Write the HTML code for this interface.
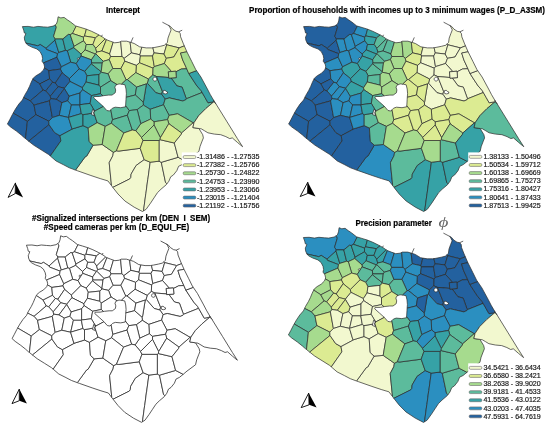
<!DOCTYPE html>
<html><head><meta charset="utf-8"><style>
html,body{margin:0;padding:0;background:#fff;}
svg{display:block;}
.tt{font-family:"Liberation Sans",Arial,sans-serif;font-weight:bold;font-size:8.9px;fill:#000;stroke:#000;stroke-width:0.2px;}
.lg{font-family:"Liberation Sans",Arial,sans-serif;font-size:6.7px;fill:#1a1a1a;stroke:#1a1a1a;stroke-width:0.18px;}
.phi{font-family:"Liberation Serif",serif;font-style:italic;font-size:14.7px;fill:#666;}
</style></head><body>
<svg width="550" height="428" viewBox="0 0 550 428">
<rect width="550" height="428" fill="#fff"/>
<g transform="translate(0,0)" stroke="#2a2a2a" stroke-width="0.7" stroke-linejoin="round">
<path d="M85.1,156.9 75.5,170.1 77.8,170.9 90.9,175.5 100.2,178.6 107.9,180.9 111.5,185.6 109.2,162.7 112.8,155.8 113.4,152.3 102.2,144.5 93.1,145.2 86.7,156.1Z" fill="#F2F8CF"/>
<path d="M140.2,148.3 118.8,151.1 116.4,150.8 113.4,152.3 112.8,155.8 109.2,162.7 111.5,185.6 112.6,187.1 112.8,187.4 129.8,178.9 130.8,177.5 131.1,174.1 136.1,165.5 144.2,159.7Z" fill="#F2F8CF"/>
<path d="M130.8,177.5 129.8,178.9 112.8,187.4 118,194 124.9,201 134.2,207.2 142.5,211.5 143.5,210.9 145.8,193.8 145.9,193.7 147.7,179.9 147.8,179.8 150.2,162.2 144.2,159.7 136.1,165.5 131.1,174.1Z" fill="#F2F8CF"/>
<path d="M147.8,179.8 147.7,179.9 145.9,193.7 145.8,193.8 143.5,210.9 146.1,209.3 150.5,203.2 154,197.9 157.5,192.6 161.1,189.1 166.3,184.7 166.9,183.8 165.5,182.3 161.3,162.3 159,161.2 150.2,162.2Z" fill="#F2F8CF"/>
<path d="M37.8,45.8 40.2,44.5 46,48.3 55,40.1 55.3,39 53.6,36.3 56.3,27.3 55.8,25.8 55,25 53.2,26.1 47.7,27.2 43.4,26.9 37.9,26.4 33.5,27.2 28.1,26.4 22.4,26.6 23.7,30.2 24.3,32.9 25.9,33.4 24.8,36.2 24.3,37 24.6,40 25.9,43.1Z" fill="#36A2A6"/>
<path d="M46.5,49.5 57.5,53.7 58.8,52.5 55,40.1 46,48.3Z" fill="#2B8FC0"/>
<path d="M57,57.2 57.5,53.7 46.5,49.5 46,48.3 40.2,44.5 37.8,45.8 25.9,43.1 25.9,43.2 27.9,45.1 31.7,47.1 36.9,49 40.1,51.6 42,55.4 42.6,58.6 42,61.2 43.3,63Z" fill="#2B8FC0"/>
<path d="M56.3,27.3 53.6,36.3 55.3,39 62.8,39 68.5,34.4 70.2,34.6 72.5,33.5 76.2,26.1 75.5,25.9 70.6,22 67.3,19.8 64.1,17.4 60.8,17.9 58.1,16.8 57.5,20.9 56.4,24 55,25 55.8,25.8Z" fill="#A6DB8E"/>
<path d="M55,40.1 58.8,52.5 65.6,50.4 62.8,39 55.3,39Z" fill="#36A2A6"/>
<path d="M62.8,39 65.6,50.4 67.3,50.8 73.7,47.7 74.1,46.3 70.2,34.6 68.5,34.4Z" fill="#36A2A6"/>
<path d="M48.9,70.7 60.4,69.1 61.4,66.8 57,57.2 43.3,63 43.9,63.8 44.6,67 44.3,68Z" fill="#23619F"/>
<path d="M83.5,37.2 84.5,36 86.4,29.2 80.9,27.5 76.2,26.1 72.5,33.5Z" fill="#DCEB92"/>
<path d="M84.5,36 95.4,37.8 99,35 97.3,34.1 91.8,31.4 86.4,29.2 86.4,29.2Z" fill="#DCEB92"/>
<path d="M74.1,46.3 83.5,40.9 83.5,37.2 72.5,33.5 70.2,34.6Z" fill="#A6DB8E"/>
<path d="M83.5,40.9 86.3,44.5 92.9,44.5 95.4,37.8 84.5,36 83.5,37.2Z" fill="#DCEB92"/>
<path d="M92.9,44.5 95.7,48.3 105.1,38.9 102.2,36.8 99,35 95.4,37.8Z" fill="#DCEB92"/>
<path d="M74.1,46.3 73.7,47.7 81,54 85.1,49.9 86.3,44.5 83.5,40.9Z" fill="#A6DB8E"/>
<path d="M95.4,54.1 95.8,53.8 96.7,52.1 95.7,48.3 92.9,44.5 86.3,44.5 85.1,49.9Z" fill="#A6DB8E"/>
<path d="M81,54 81.1,56 91.4,59.8 95.4,54.1 85.1,49.9Z" fill="#A6DB8E"/>
<path d="M70.7,62.2 76.2,63.6 78.9,59.5 78.8,59.6 78.5,59.7 78.3,59.7 78.1,59.7 77.8,59.6 77.7,59.4 77.5,59.2 77.4,59 77.4,58.8 77.4,58.6 77.5,58.3 77.7,58.2 77.8,58 78.1,57.9 78.3,57.9 78.5,57.9 78.8,58 78.9,58.2 79.1,58.3 79.2,58.6 79.2,58.8 79.2,59 81.1,56 81,54 73.7,47.7 67.3,50.8Z" fill="#36A2A6"/>
<path d="M96.7,52.1 101.9,51 106.4,39.7 106,39.5 105.1,38.9 95.7,48.3Z" fill="#DCEB92"/>
<path d="M101.9,51 109.7,53.9 113.2,42.2 110.3,41.2 106.4,39.7Z" fill="#DCEB92"/>
<path d="M95.8,53.8 103.3,61.3 109.2,59.6 110.7,56.5 109.7,53.9 101.9,51 96.7,52.1Z" fill="#DCEB92"/>
<path d="M110.7,56.5 122,56.5 120.7,41.5 119.1,42.3 114.7,42.8 113.2,42.2 109.7,53.9Z" fill="#F2F8CF"/>
<path d="M122,56.5 124.1,58.4 131.4,52.9 130.1,42.2 126.7,41.2 121.3,41.2 120.7,41.5Z" fill="#F2F8CF"/>
<path d="M109.2,59.6 112.8,68.5 120.9,68.5 124.8,61.2 124.1,58.4 122,56.5 110.7,56.5Z" fill="#DCEB92"/>
<path d="M91.6,63 102.3,63 103.3,61.3 95.8,53.8 95.4,54.1 91.4,59.8Z" fill="#5CBB9C"/>
<path d="M79.1,68.9 84.7,71.4 91.4,63.8 91.6,63 91.4,59.8 81.1,56 79.2,59 79.2,59 79.1,59.2 78.9,59.4 78.9,59.5 76.2,63.6Z" fill="#2B8FC0"/>
<path d="M131.4,52.9 139.9,54.8 141.8,47.2 139.6,46.8 134.2,43.5 130.9,42.4 130.1,42.2Z" fill="#F2F8CF"/>
<path d="M124.8,61.2 136.3,65.4 139.5,62.8 140.4,56 139.9,54.8 131.4,52.9 124.1,58.4Z" fill="#F2F8CF"/>
<path d="M139.9,54.8 140.4,56 152.5,56 154.1,52.9 152.9,47.7 151.6,47.9 146.2,47.9 141.8,47.2Z" fill="#F2F8CF"/>
<path d="M153.1,68.2 154.3,66.6 152.5,56 140.4,56 139.5,62.8Z" fill="#DCEB92"/>
<path d="M135.8,72.6 148.4,79 152.8,74.9 153.1,68.2 139.5,62.8 136.3,65.4Z" fill="#DCEB92"/>
<path d="M120.9,68.5 126,79.7 127.3,79.6 135.8,72.6 136.3,65.4 124.8,61.2Z" fill="#DCEB92"/>
<path d="M166,43.8 164.7,45.2 160.3,46.3 154.9,47.4 152.9,47.7 154.1,52.9 164,54 166.7,44.8Z" fill="#F2F8CF"/>
<path d="M154.3,66.6 164.4,63.5 166.3,58.3 164,54 154.1,52.9 152.5,56Z" fill="#DCEB92"/>
<path d="M166.7,44.8 179.2,47.9 184.3,45.9 183.1,43.1 180.6,36.8 180.2,33.5 178.7,31.8 176,31.3 172.7,29.1 170.6,26.6 168.7,25.4 169.8,27.2 171.1,29.9 169.6,33.7 168,38.1 167.4,42.4 166,43.8Z" fill="#F2F8CF"/>
<path d="M166.3,58.3 173.8,57 179.2,47.9 166.7,44.8 164,54Z" fill="#DCEB92"/>
<path d="M179.2,47.9 173.8,57 166.3,58.3 164.4,63.5 171.5,71.5 175.8,71.2 175.9,71.8 181.3,69 186.7,68.7 185.5,66 182.7,60 180.5,53 186.9,51.8 184.3,45.9Z" fill="#DCEB92"/>
<path d="M153.1,68.2 152.8,74.9 156.5,76.5 168.7,77.5 168.3,71.8 171.5,71.5 164.4,63.5 154.3,66.6Z" fill="#A6DB8E"/>
<path d="M181.3,69 175.9,71.8 176.3,77.6 171.1,78 176.9,85.9 182.1,87.1 186.3,98.8 202.1,92.5 201,90.5 197,86 193,80 188.8,73.5 186.7,68.7Z" fill="#5CBB9C"/>
<path d="M147.3,83.2 155.8,92.7 161.7,94.3 162.4,91.3 156.5,76.5 152.8,74.9 148.4,79ZM155.6,80.9 155.3,81 154.9,81 154.5,81 154.2,80.9 153.8,80.7 153.6,80.4 153.3,80.2 153.1,79.8 153,79.5 153,79.1 153,78.7 153.1,78.4 153.3,78 153.6,77.8 153.8,77.5 154.2,77.3 154.5,77.2 154.9,77.2 155.3,77.2 155.6,77.3 156,77.5 156.2,77.8 156.5,78 156.7,78.4 156.8,78.7 156.8,79.1 156.8,79.5 156.7,79.8 156.5,80.2 156.2,80.4 156,80.7Z" fill="#5CBB9C"/>
<path d="M161.7,94.3 165.1,99.1 169.4,97.9 182.8,101 185.7,99.8 186.3,98.8 182.1,87.1 176.9,85.9 171.1,78 168.8,78.2 168.7,77.5 156.5,76.5 162.4,91.3ZM167.4,93.4 165.5,93.9 163.6,93.6 163,92.2 163.3,90.6 165,90.3 166.2,91.4 167.6,92Z" fill="#36A2A6"/>
<path d="M143.5,101.5 143.1,102 143.4,105.1 150.1,109.3 163.5,104.8 165.1,99.1 161.7,94.3 155.8,92.7 147.3,83.2 146.4,83.9Z" fill="#36A2A6"/>
<path d="M127.3,79.6 136.6,87.1 146.4,83.9 147.3,83.2 148.4,79 135.8,72.6Z" fill="#A6DB8E"/>
<path d="M135.3,95 136.6,87.1 127.3,79.6 126,79.7 121.3,84.1 122,84.2 125,84.8 126,89 126.4,93.7 126.1,97.3Z" fill="#5CBB9C"/>
<path d="M135.3,95 143.1,102 143.5,101.5 146.4,83.9 136.6,87.1Z" fill="#5CBB9C"/>
<path d="M129.3,110.6 137.2,109.6 143.4,105.1 143.1,102 135.3,95 126.1,97.3 126,99.3 125.6,105.8Z" fill="#5CBB9C"/>
<path d="M185.7,99.8 182.8,101 169.4,97.9 165.1,99.1 163.5,104.8 169.1,115.4 177.7,113.8 193.2,122.8 194.1,122.6 198.7,115.7 205.7,108.7 213.9,101.7 208,102.8 205,97.5 202.1,92.5 186.3,98.8ZM213.9,101.7 216.2,104.3 213.4,99.9Z" fill="#5CBB9C"/>
<path d="M150.7,119.1 154,121.8 167.6,119.6 169.1,115.4 163.5,104.8 150.1,109.3Z" fill="#5CBB9C"/>
<path d="M137.2,109.6 140.7,123.7 150.7,119.1 150.1,109.3 143.4,105.1Z" fill="#5CBB9C"/>
<path d="M167.6,119.6 168.8,123.7 181.6,133 193.2,122.8 177.7,113.8 169.1,115.4Z" fill="#A6DB8E"/>
<path d="M160.4,137.7 168.8,123.7 167.6,119.6 154,121.8 154,125Z" fill="#A6DB8E"/>
<path d="M135.8,130.7 141.5,137.5 154,125 154,121.8 150.7,119.1 140.7,123.7Z" fill="#A6DB8E"/>
<path d="M57,57.2 61.4,66.8 70.7,62.2 67.3,50.8 65.6,50.4 58.8,52.5 57.5,53.7Z" fill="#2B8FC0"/>
<path d="M60.4,69.1 62.2,72.8 69.3,78.7 79.1,68.9 76.2,63.6 70.7,62.2 61.4,66.8Z" fill="#2B8FC0"/>
<path d="M84.7,71.4 86.9,75.8 99,74.5 101.4,72.3 101.2,71.7 91.4,63.8Z" fill="#36A2A6"/>
<path d="M101.2,71.7 102.3,63 91.6,63 91.4,63.8Z" fill="#5CBB9C"/>
<path d="M102.3,63 101.2,71.7 101.4,72.3 108.1,73.8 112.8,68.5 109.2,59.6 103.3,61.3Z" fill="#A6DB8E"/>
<path d="M108.1,73.8 110.7,80.7 117,84.6 119,83.9 121.3,84.1 126,79.7 120.9,68.5 112.8,68.5Z" fill="#A6DB8E"/>
<path d="M69.8,81.4 82.4,87.7 86.1,82 86.9,75.8 84.7,71.4 79.1,68.9 69.3,78.7Z" fill="#2B8FC0"/>
<path d="M99,85.2 99,74.5 86.9,75.8 86.1,82Z" fill="#36A2A6"/>
<path d="M99,74.5 99,85.2 100.5,87.1 110.7,80.7 108.1,73.8 101.4,72.3Z" fill="#5CBB9C"/>
<path d="M64.3,88.2 64.4,88.6 69,96.3 80,93 82.6,89.7 82.4,87.7 69.8,81.4Z" fill="#2B8FC0"/>
<path d="M82.6,89.7 91.5,95.6 100.5,93.7 100.5,87.1 99,85.2 86.1,82 82.4,87.7Z" fill="#36A2A6"/>
<path d="M100.5,93.7 102.9,95.8 104,95.6 108.7,95.1 112,95.1 115.2,92.8 115.7,90 114.8,87.1 116.2,84.8 117,84.6 110.7,80.7 100.5,87.1Z" fill="#5CBB9C"/>
<path d="M67.6,100.8 71.4,105 79.8,105 80,104.7 80,93 69,96.3Z" fill="#2B8FC0"/>
<path d="M80,93 80,104.7 90.1,103.4 91.5,95.6 82.6,89.7Z" fill="#2B8FC0"/>
<path d="M94.7,111.1 103.3,106.5 103.1,106.3 98.4,102.1 93.7,97.9 94.2,96.5 99.3,96.5 102.9,95.8 100.5,93.7 91.5,95.6 90.1,103.4Z" fill="#36A2A6"/>
<path d="M39.8,83.9 49.6,78.9 48.9,70.7 44.3,68 43.5,70 40.2,73.3 36.1,75.7 33.2,78.2 32.7,79.2Z" fill="#23619F"/>
<path d="M49.6,78.9 52.5,82.2 55.3,83 62.2,72.8 60.4,69.1 48.9,70.7Z" fill="#23619F"/>
<path d="M30.3,100.9 43.1,90 39.8,83.9 32.7,79.2 31.2,82.3 29.5,86.4 27.5,90.5 24.6,95.4 23.6,97.5Z" fill="#23619F"/>
<path d="M50.3,96.2 58.2,86.7 55.3,83 52.5,82.2 45.6,90.9Z" fill="#23619F"/>
<path d="M58.2,86.7 64.3,88.2 69.8,81.4 69.3,78.7 62.2,72.8 55.3,83Z" fill="#23619F"/>
<path d="M45.6,90.9 52.5,82.2 49.6,78.9 39.8,83.9 43.1,90Z" fill="#23619F"/>
<path d="M30.3,100.9 34,105.1 49.4,100.9 50.9,98.6 50.3,96.2 45.6,90.9 43.1,90Z" fill="#23619F"/>
<path d="M50.9,98.6 56.3,99.4 64.4,88.6 64.3,88.2 58.2,86.7 50.3,96.2Z" fill="#23619F"/>
<path d="M56.3,99.4 61.9,102.7 67.6,100.8 69,96.3 64.4,88.6Z" fill="#23619F"/>
<path d="M27.4,121.4 35.9,114.7 34,105.1 30.3,100.9 23.6,97.5 22.4,100 18.8,104.1 15.5,109 13.2,113.1Z" fill="#23619F"/>
<path d="M49.4,100.9 34,105.1 35.9,114.7 48.8,121.2 52.4,117.6Z" fill="#23619F"/>
<path d="M27.4,121.4 13.2,113.1 12.3,114.7 9.8,119.6 7.4,124.1 10.6,127 16.4,131.1 21.3,135 24.3,137.7 25.5,138.6Z" fill="#23619F"/>
<path d="M25.5,138.6 28.7,141.2 49,124.6 48.8,121.2 35.9,114.7 27.4,121.4Z" fill="#23619F"/>
<path d="M60.9,140.9 60,135.7 54.7,132.7 49,124.6 28.7,141.2 33.6,145.1 41.1,149.8 48.6,154.5 50.3,156Z" fill="#23619F"/>
<path d="M52.4,117.6 59.3,115.4 61.9,102.7 56.3,99.4 50.9,98.6 49.4,100.9Z" fill="#23619F"/>
<path d="M68.5,117.5 68.6,117.4 71.4,105 67.6,100.8 61.9,102.7 59.3,115.4Z" fill="#2B8FC0"/>
<path d="M49,124.6 54.7,132.7 60,135.7 71.8,129.4 72,129 68.5,117.5 59.3,115.4 52.4,117.6 48.8,121.2Z" fill="#2B8FC0"/>
<path d="M68.6,117.4 81.3,113.6 79.8,105 71.4,105Z" fill="#2B8FC0"/>
<path d="M60.9,140.9 50.3,156 56.1,161 63.6,164.8 69.3,167.8 75.5,170.1 85.1,156.9 86.7,156.1 93.1,145.2 89.2,141.6 88.2,128 83,125.6 72,129 71.8,129.4 60,135.7Z" fill="#36A2A6"/>
<path d="M68.5,117.5 72,129 83,125.6 83,114.7 81.3,113.6 68.6,117.4Z" fill="#36A2A6"/>
<path d="M88.2,128 97.2,122.7 93.9,112.8 93.9,112.8 93.9,113 94.2,115.6 91.4,114.6 91.7,113.2 83,114.7 83,125.6Z" fill="#36A2A6"/>
<path d="M79.8,105 81.3,113.6 83,114.7 91.7,113.2 92,112 92.6,109.3 94.2,110.4 93.9,112.8 93.9,112.8 94.7,111.1 90.1,103.4 80,104.7Z" fill="#36A2A6"/>
<path d="M93.9,112.8 97.2,122.7 105.2,126.4 111.3,123.3 112.6,119.7 110.8,109.8 109.6,111 106.8,110.5 103.3,106.5 94.7,111.1Z" fill="#5CBB9C"/>
<path d="M112.6,119.7 127.4,115.2 129.3,110.6 125.6,105.8 125.5,106.8 120.8,107.7 115.2,107.2 112.4,108.2 110.8,109.8Z" fill="#5CBB9C"/>
<path d="M123.8,133 132.3,130 127.4,115.2 112.6,119.7 111.3,123.3Z" fill="#5CBB9C"/>
<path d="M127.4,115.2 132.3,130 135.8,130.7 140.7,123.7 137.2,109.6 129.3,110.6Z" fill="#5CBB9C"/>
<path d="M89.2,141.6 93.1,145.2 102.2,144.5 105.2,126.4 97.2,122.7 88.2,128Z" fill="#A6DB8E"/>
<path d="M102.2,144.5 113.4,152.3 116.4,150.8 123.8,133 111.3,123.3 105.2,126.4Z" fill="#A6DB8E"/>
<path d="M116.4,150.8 118.8,151.1 140.2,148.3 143,140.5 141.5,137.5 135.8,130.7 132.3,130 123.8,133Z" fill="#DCEB92"/>
<path d="M178.1,157.3 161.3,162.3 165.5,182.3 166.9,183.8 168.9,181.2 170.7,176.8 173.3,175.1 176.8,170.7 178.6,166.3 182.1,164.6 186,161.4Z" fill="#F2F8CF"/>
<path d="M159,140.5 159,161.2 161.3,162.3 178.1,157.3 174.3,143 160.1,139.7Z" fill="#F2F8CF"/>
<path d="M144.2,159.7 150.2,162.2 159,161.2 159,140.5 143,140.5 140.2,148.3Z" fill="#DCEB92"/>
<path d="M143,140.5 159,140.5 160.1,139.7 160.4,137.7 154,125 141.5,137.5Z" fill="#A6DB8E"/>
<path d="M160.1,139.7 174.3,143 181.3,134.3 181.6,133 168.8,123.7 160.4,137.7Z" fill="#DCEB92"/>
<path d="M186,161.4 190,158 198.9,151.4 200.1,146.3 202.1,141.1 203.4,137.9 202.7,134.7 198.9,128.5 192.9,127.6 194,122.7 194.1,122.6 193.2,122.8 181.6,133 181.3,134.3 174.3,143 178.1,157.3Z" fill="#F2F8CF"/>
<path d="M168.8,78.2 176.3,77.6 175.8,71.2 168.3,71.8Z" fill="#A6DB8E"/>
<path d="M205.7,108.7 198.7,115.7 194,122.7 192.9,127.6 198.9,128.5 201.4,128.9 204.6,130.8 207.9,132.8 214.3,134.1 220.7,134.7 225.8,136.6 229.7,138.6 232.3,137.9 237.4,142.4 242.6,146.7 237.4,138.6 227.1,121.9 216.2,104.3 213.9,101.7Z" fill="#F2F8CF"/>
<path d="M193,80 197,86 201,90.5 205,97.5 208,102.8 213.9,101.7 213.4,99.9 210.2,94.4 207.4,89 200.9,77 196.5,70.6 188.8,73.5Z" fill="#36A2A6"/>
<path d="M182.7,60 185.5,66 188.8,73.5 196.5,70.6 195.6,69.3 191.8,61.6 186.9,51.8 180.5,53Z" fill="#A6DB8E"/>
<path d="M130.9,42.4 L133.1,37.4" fill="none"/><path d="M168.9,25.6 L162.4,22.2" fill="none"/><path d="M178.7,31.8 L182.2,30.2" fill="none"/><path d="M101.5,36.4 L102.3,34.8" fill="none"/>
</g>
<g transform="translate(281.2,0)" stroke="#2a2a2a" stroke-width="0.7" stroke-linejoin="round">
<path d="M85.1,156.9 75.5,170.1 77.8,170.9 90.9,175.5 100.2,178.6 107.9,180.9 111.5,185.6 109.2,162.7 112.8,155.8 113.4,152.3 102.2,144.5 93.1,145.2 86.7,156.1Z" fill="#2B8FC0"/>
<path d="M140.2,148.3 118.8,151.1 116.4,150.8 113.4,152.3 112.8,155.8 109.2,162.7 111.5,185.6 112.6,187.1 112.8,187.4 129.8,178.9 130.8,177.5 131.1,174.1 136.1,165.5 144.2,159.7Z" fill="#5CBB9C"/>
<path d="M130.8,177.5 129.8,178.9 112.8,187.4 118,194 124.9,201 134.2,207.2 142.5,211.5 143.5,210.9 145.8,193.8 145.9,193.7 147.7,179.9 147.8,179.8 150.2,162.2 144.2,159.7 136.1,165.5 131.1,174.1Z" fill="#36A2A6"/>
<path d="M147.8,179.8 147.7,179.9 145.9,193.7 145.8,193.8 143.5,210.9 146.1,209.3 150.5,203.2 154,197.9 157.5,192.6 161.1,189.1 166.3,184.7 166.9,183.8 165.5,182.3 161.3,162.3 159,161.2 150.2,162.2Z" fill="#36A2A6"/>
<path d="M37.8,45.8 40.2,44.5 46,48.3 55,40.1 55.3,39 53.6,36.3 56.3,27.3 55.8,25.8 55,25 53.2,26.1 47.7,27.2 43.4,26.9 37.9,26.4 33.5,27.2 28.1,26.4 22.4,26.6 23.7,30.2 24.3,32.9 25.9,33.4 24.8,36.2 24.3,37 24.6,40 25.9,43.1Z" fill="#23619F"/>
<path d="M46.5,49.5 57.5,53.7 58.8,52.5 55,40.1 46,48.3Z" fill="#23619F"/>
<path d="M57,57.2 57.5,53.7 46.5,49.5 46,48.3 40.2,44.5 37.8,45.8 25.9,43.1 25.9,43.2 27.9,45.1 31.7,47.1 36.9,49 40.1,51.6 42,55.4 42.6,58.6 42,61.2 43.3,63Z" fill="#23619F"/>
<path d="M56.3,27.3 53.6,36.3 55.3,39 62.8,39 68.5,34.4 70.2,34.6 72.5,33.5 76.2,26.1 75.5,25.9 70.6,22 67.3,19.8 64.1,17.4 60.8,17.9 58.1,16.8 57.5,20.9 56.4,24 55,25 55.8,25.8Z" fill="#23619F"/>
<path d="M55,40.1 58.8,52.5 65.6,50.4 62.8,39 55.3,39Z" fill="#2B8FC0"/>
<path d="M62.8,39 65.6,50.4 67.3,50.8 73.7,47.7 74.1,46.3 70.2,34.6 68.5,34.4Z" fill="#2B8FC0"/>
<path d="M48.9,70.7 60.4,69.1 61.4,66.8 57,57.2 43.3,63 43.9,63.8 44.6,67 44.3,68Z" fill="#2B8FC0"/>
<path d="M83.5,37.2 84.5,36 86.4,29.2 80.9,27.5 76.2,26.1 72.5,33.5Z" fill="#2B8FC0"/>
<path d="M84.5,36 95.4,37.8 99,35 97.3,34.1 91.8,31.4 86.4,29.2 86.4,29.2Z" fill="#36A2A6"/>
<path d="M74.1,46.3 83.5,40.9 83.5,37.2 72.5,33.5 70.2,34.6Z" fill="#2B8FC0"/>
<path d="M83.5,40.9 86.3,44.5 92.9,44.5 95.4,37.8 84.5,36 83.5,37.2Z" fill="#36A2A6"/>
<path d="M92.9,44.5 95.7,48.3 105.1,38.9 102.2,36.8 99,35 95.4,37.8Z" fill="#5CBB9C"/>
<path d="M74.1,46.3 73.7,47.7 81,54 85.1,49.9 86.3,44.5 83.5,40.9Z" fill="#2B8FC0"/>
<path d="M95.4,54.1 95.8,53.8 96.7,52.1 95.7,48.3 92.9,44.5 86.3,44.5 85.1,49.9Z" fill="#36A2A6"/>
<path d="M81,54 81.1,56 91.4,59.8 95.4,54.1 85.1,49.9Z" fill="#36A2A6"/>
<path d="M70.7,62.2 76.2,63.6 78.9,59.5 78.8,59.6 78.5,59.7 78.3,59.7 78.1,59.7 77.8,59.6 77.7,59.4 77.5,59.2 77.4,59 77.4,58.8 77.4,58.6 77.5,58.3 77.7,58.2 77.8,58 78.1,57.9 78.3,57.9 78.5,57.9 78.8,58 78.9,58.2 79.1,58.3 79.2,58.6 79.2,58.8 79.2,59 81.1,56 81,54 73.7,47.7 67.3,50.8Z" fill="#2B8FC0"/>
<path d="M96.7,52.1 101.9,51 106.4,39.7 106,39.5 105.1,38.9 95.7,48.3Z" fill="#5CBB9C"/>
<path d="M101.9,51 109.7,53.9 113.2,42.2 110.3,41.2 106.4,39.7Z" fill="#5CBB9C"/>
<path d="M95.8,53.8 103.3,61.3 109.2,59.6 110.7,56.5 109.7,53.9 101.9,51 96.7,52.1Z" fill="#5CBB9C"/>
<path d="M110.7,56.5 122,56.5 120.7,41.5 119.1,42.3 114.7,42.8 113.2,42.2 109.7,53.9Z" fill="#A6DB8E"/>
<path d="M122,56.5 124.1,58.4 131.4,52.9 130.1,42.2 126.7,41.2 121.3,41.2 120.7,41.5Z" fill="#A6DB8E"/>
<path d="M109.2,59.6 112.8,68.5 120.9,68.5 124.8,61.2 124.1,58.4 122,56.5 110.7,56.5Z" fill="#A6DB8E"/>
<path d="M91.6,63 102.3,63 103.3,61.3 95.8,53.8 95.4,54.1 91.4,59.8Z" fill="#5CBB9C"/>
<path d="M79.1,68.9 84.7,71.4 91.4,63.8 91.6,63 91.4,59.8 81.1,56 79.2,59 79.2,59 79.1,59.2 78.9,59.4 78.9,59.5 76.2,63.6Z" fill="#36A2A6"/>
<path d="M131.4,52.9 139.9,54.8 141.8,47.2 139.6,46.8 134.2,43.5 130.9,42.4 130.1,42.2Z" fill="#DCEB92"/>
<path d="M124.8,61.2 136.3,65.4 139.5,62.8 140.4,56 139.9,54.8 131.4,52.9 124.1,58.4Z" fill="#DCEB92"/>
<path d="M139.9,54.8 140.4,56 152.5,56 154.1,52.9 152.9,47.7 151.6,47.9 146.2,47.9 141.8,47.2Z" fill="#F2F8CF"/>
<path d="M153.1,68.2 154.3,66.6 152.5,56 140.4,56 139.5,62.8Z" fill="#F2F8CF"/>
<path d="M135.8,72.6 148.4,79 152.8,74.9 153.1,68.2 139.5,62.8 136.3,65.4Z" fill="#F2F8CF"/>
<path d="M120.9,68.5 126,79.7 127.3,79.6 135.8,72.6 136.3,65.4 124.8,61.2Z" fill="#DCEB92"/>
<path d="M166,43.8 164.7,45.2 160.3,46.3 154.9,47.4 152.9,47.7 154.1,52.9 164,54 166.7,44.8Z" fill="#F2F8CF"/>
<path d="M154.3,66.6 164.4,63.5 166.3,58.3 164,54 154.1,52.9 152.5,56Z" fill="#F2F8CF"/>
<path d="M166.7,44.8 179.2,47.9 184.3,45.9 183.1,43.1 180.6,36.8 180.2,33.5 178.7,31.8 176,31.3 172.7,29.1 170.6,26.6 168.7,25.4 169.8,27.2 171.1,29.9 169.6,33.7 168,38.1 167.4,42.4 166,43.8Z" fill="#F2F8CF"/>
<path d="M166.3,58.3 173.8,57 179.2,47.9 166.7,44.8 164,54Z" fill="#F2F8CF"/>
<path d="M179.2,47.9 173.8,57 166.3,58.3 164.4,63.5 171.5,71.5 175.8,71.2 175.9,71.8 181.3,69 186.7,68.7 185.5,66 182.7,60 180.5,53 186.9,51.8 184.3,45.9Z" fill="#F2F8CF"/>
<path d="M153.1,68.2 152.8,74.9 156.5,76.5 168.7,77.5 168.3,71.8 171.5,71.5 164.4,63.5 154.3,66.6Z" fill="#F2F8CF"/>
<path d="M181.3,69 175.9,71.8 176.3,77.6 171.1,78 176.9,85.9 182.1,87.1 186.3,98.8 202.1,92.5 201,90.5 197,86 193,80 188.8,73.5 186.7,68.7Z" fill="#F2F8CF"/>
<path d="M147.3,83.2 155.8,92.7 161.7,94.3 162.4,91.3 156.5,76.5 152.8,74.9 148.4,79ZM155.6,80.9 155.3,81 154.9,81 154.5,81 154.2,80.9 153.8,80.7 153.6,80.4 153.3,80.2 153.1,79.8 153,79.5 153,79.1 153,78.7 153.1,78.4 153.3,78 153.6,77.8 153.8,77.5 154.2,77.3 154.5,77.2 154.9,77.2 155.3,77.2 155.6,77.3 156,77.5 156.2,77.8 156.5,78 156.7,78.4 156.8,78.7 156.8,79.1 156.8,79.5 156.7,79.8 156.5,80.2 156.2,80.4 156,80.7Z" fill="#F2F8CF"/>
<path d="M161.7,94.3 165.1,99.1 169.4,97.9 182.8,101 185.7,99.8 186.3,98.8 182.1,87.1 176.9,85.9 171.1,78 168.8,78.2 168.7,77.5 156.5,76.5 162.4,91.3ZM167.4,93.4 165.5,93.9 163.6,93.6 163,92.2 163.3,90.6 165,90.3 166.2,91.4 167.6,92Z" fill="#F2F8CF"/>
<path d="M143.5,101.5 143.1,102 143.4,105.1 150.1,109.3 163.5,104.8 165.1,99.1 161.7,94.3 155.8,92.7 147.3,83.2 146.4,83.9Z" fill="#F2F8CF"/>
<path d="M127.3,79.6 136.6,87.1 146.4,83.9 147.3,83.2 148.4,79 135.8,72.6Z" fill="#DCEB92"/>
<path d="M135.3,95 136.6,87.1 127.3,79.6 126,79.7 121.3,84.1 122,84.2 125,84.8 126,89 126.4,93.7 126.1,97.3Z" fill="#DCEB92"/>
<path d="M135.3,95 143.1,102 143.5,101.5 146.4,83.9 136.6,87.1Z" fill="#DCEB92"/>
<path d="M129.3,110.6 137.2,109.6 143.4,105.1 143.1,102 135.3,95 126.1,97.3 126,99.3 125.6,105.8Z" fill="#DCEB92"/>
<path d="M185.7,99.8 182.8,101 169.4,97.9 165.1,99.1 163.5,104.8 169.1,115.4 177.7,113.8 193.2,122.8 194.1,122.6 198.7,115.7 205.7,108.7 213.9,101.7 208,102.8 205,97.5 202.1,92.5 186.3,98.8ZM213.9,101.7 216.2,104.3 213.4,99.9Z" fill="#DCEB92"/>
<path d="M150.7,119.1 154,121.8 167.6,119.6 169.1,115.4 163.5,104.8 150.1,109.3Z" fill="#DCEB92"/>
<path d="M137.2,109.6 140.7,123.7 150.7,119.1 150.1,109.3 143.4,105.1Z" fill="#DCEB92"/>
<path d="M167.6,119.6 168.8,123.7 181.6,133 193.2,122.8 177.7,113.8 169.1,115.4Z" fill="#DCEB92"/>
<path d="M160.4,137.7 168.8,123.7 167.6,119.6 154,121.8 154,125Z" fill="#DCEB92"/>
<path d="M135.8,130.7 141.5,137.5 154,125 154,121.8 150.7,119.1 140.7,123.7Z" fill="#DCEB92"/>
<path d="M57,57.2 61.4,66.8 70.7,62.2 67.3,50.8 65.6,50.4 58.8,52.5 57.5,53.7Z" fill="#2B8FC0"/>
<path d="M60.4,69.1 62.2,72.8 69.3,78.7 79.1,68.9 76.2,63.6 70.7,62.2 61.4,66.8Z" fill="#36A2A6"/>
<path d="M84.7,71.4 86.9,75.8 99,74.5 101.4,72.3 101.2,71.7 91.4,63.8Z" fill="#5CBB9C"/>
<path d="M101.2,71.7 102.3,63 91.6,63 91.4,63.8Z" fill="#5CBB9C"/>
<path d="M102.3,63 101.2,71.7 101.4,72.3 108.1,73.8 112.8,68.5 109.2,59.6 103.3,61.3Z" fill="#A6DB8E"/>
<path d="M108.1,73.8 110.7,80.7 117,84.6 119,83.9 121.3,84.1 126,79.7 120.9,68.5 112.8,68.5Z" fill="#A6DB8E"/>
<path d="M69.8,81.4 82.4,87.7 86.1,82 86.9,75.8 84.7,71.4 79.1,68.9 69.3,78.7Z" fill="#36A2A6"/>
<path d="M99,85.2 99,74.5 86.9,75.8 86.1,82Z" fill="#5CBB9C"/>
<path d="M99,74.5 99,85.2 100.5,87.1 110.7,80.7 108.1,73.8 101.4,72.3Z" fill="#A6DB8E"/>
<path d="M64.3,88.2 64.4,88.6 69,96.3 80,93 82.6,89.7 82.4,87.7 69.8,81.4Z" fill="#36A2A6"/>
<path d="M82.6,89.7 91.5,95.6 100.5,93.7 100.5,87.1 99,85.2 86.1,82 82.4,87.7Z" fill="#A6DB8E"/>
<path d="M100.5,93.7 102.9,95.8 104,95.6 108.7,95.1 112,95.1 115.2,92.8 115.7,90 114.8,87.1 116.2,84.8 117,84.6 110.7,80.7 100.5,87.1Z" fill="#A6DB8E"/>
<path d="M67.6,100.8 71.4,105 79.8,105 80,104.7 80,93 69,96.3Z" fill="#2B8FC0"/>
<path d="M80,93 80,104.7 90.1,103.4 91.5,95.6 82.6,89.7Z" fill="#36A2A6"/>
<path d="M94.7,111.1 103.3,106.5 103.1,106.3 98.4,102.1 93.7,97.9 94.2,96.5 99.3,96.5 102.9,95.8 100.5,93.7 91.5,95.6 90.1,103.4Z" fill="#5CBB9C"/>
<path d="M39.8,83.9 49.6,78.9 48.9,70.7 44.3,68 43.5,70 40.2,73.3 36.1,75.7 33.2,78.2 32.7,79.2Z" fill="#23619F"/>
<path d="M49.6,78.9 52.5,82.2 55.3,83 62.2,72.8 60.4,69.1 48.9,70.7Z" fill="#2B8FC0"/>
<path d="M30.3,100.9 43.1,90 39.8,83.9 32.7,79.2 31.2,82.3 29.5,86.4 27.5,90.5 24.6,95.4 23.6,97.5Z" fill="#23619F"/>
<path d="M50.3,96.2 58.2,86.7 55.3,83 52.5,82.2 45.6,90.9Z" fill="#2B8FC0"/>
<path d="M58.2,86.7 64.3,88.2 69.8,81.4 69.3,78.7 62.2,72.8 55.3,83Z" fill="#2B8FC0"/>
<path d="M45.6,90.9 52.5,82.2 49.6,78.9 39.8,83.9 43.1,90Z" fill="#23619F"/>
<path d="M30.3,100.9 34,105.1 49.4,100.9 50.9,98.6 50.3,96.2 45.6,90.9 43.1,90Z" fill="#23619F"/>
<path d="M50.9,98.6 56.3,99.4 64.4,88.6 64.3,88.2 58.2,86.7 50.3,96.2Z" fill="#2B8FC0"/>
<path d="M56.3,99.4 61.9,102.7 67.6,100.8 69,96.3 64.4,88.6Z" fill="#2B8FC0"/>
<path d="M27.4,121.4 35.9,114.7 34,105.1 30.3,100.9 23.6,97.5 22.4,100 18.8,104.1 15.5,109 13.2,113.1Z" fill="#23619F"/>
<path d="M49.4,100.9 34,105.1 35.9,114.7 48.8,121.2 52.4,117.6Z" fill="#23619F"/>
<path d="M27.4,121.4 13.2,113.1 12.3,114.7 9.8,119.6 7.4,124.1 10.6,127 16.4,131.1 21.3,135 24.3,137.7 25.5,138.6Z" fill="#23619F"/>
<path d="M25.5,138.6 28.7,141.2 49,124.6 48.8,121.2 35.9,114.7 27.4,121.4Z" fill="#23619F"/>
<path d="M60.9,140.9 60,135.7 54.7,132.7 49,124.6 28.7,141.2 33.6,145.1 41.1,149.8 48.6,154.5 50.3,156Z" fill="#23619F"/>
<path d="M52.4,117.6 59.3,115.4 61.9,102.7 56.3,99.4 50.9,98.6 49.4,100.9Z" fill="#2B8FC0"/>
<path d="M68.5,117.5 68.6,117.4 71.4,105 67.6,100.8 61.9,102.7 59.3,115.4Z" fill="#2B8FC0"/>
<path d="M49,124.6 54.7,132.7 60,135.7 71.8,129.4 72,129 68.5,117.5 59.3,115.4 52.4,117.6 48.8,121.2Z" fill="#23619F"/>
<path d="M68.6,117.4 81.3,113.6 79.8,105 71.4,105Z" fill="#2B8FC0"/>
<path d="M60.9,140.9 50.3,156 56.1,161 63.6,164.8 69.3,167.8 75.5,170.1 85.1,156.9 86.7,156.1 93.1,145.2 89.2,141.6 88.2,128 83,125.6 72,129 71.8,129.4 60,135.7Z" fill="#23619F"/>
<path d="M68.5,117.5 72,129 83,125.6 83,114.7 81.3,113.6 68.6,117.4Z" fill="#2B8FC0"/>
<path d="M88.2,128 97.2,122.7 93.9,112.8 93.9,112.8 93.9,113 94.2,115.6 91.4,114.6 91.7,113.2 83,114.7 83,125.6Z" fill="#5CBB9C"/>
<path d="M79.8,105 81.3,113.6 83,114.7 91.7,113.2 92,112 92.6,109.3 94.2,110.4 93.9,112.8 93.9,112.8 94.7,111.1 90.1,103.4 80,104.7Z" fill="#36A2A6"/>
<path d="M93.9,112.8 97.2,122.7 105.2,126.4 111.3,123.3 112.6,119.7 110.8,109.8 109.6,111 106.8,110.5 103.3,106.5 94.7,111.1Z" fill="#A6DB8E"/>
<path d="M112.6,119.7 127.4,115.2 129.3,110.6 125.6,105.8 125.5,106.8 120.8,107.7 115.2,107.2 112.4,108.2 110.8,109.8Z" fill="#DCEB92"/>
<path d="M123.8,133 132.3,130 127.4,115.2 112.6,119.7 111.3,123.3Z" fill="#DCEB92"/>
<path d="M127.4,115.2 132.3,130 135.8,130.7 140.7,123.7 137.2,109.6 129.3,110.6Z" fill="#DCEB92"/>
<path d="M89.2,141.6 93.1,145.2 102.2,144.5 105.2,126.4 97.2,122.7 88.2,128Z" fill="#5CBB9C"/>
<path d="M102.2,144.5 113.4,152.3 116.4,150.8 123.8,133 111.3,123.3 105.2,126.4Z" fill="#A6DB8E"/>
<path d="M116.4,150.8 118.8,151.1 140.2,148.3 143,140.5 141.5,137.5 135.8,130.7 132.3,130 123.8,133Z" fill="#A6DB8E"/>
<path d="M178.1,157.3 161.3,162.3 165.5,182.3 166.9,183.8 168.9,181.2 170.7,176.8 173.3,175.1 176.8,170.7 178.6,166.3 182.1,164.6 186,161.4Z" fill="#36A2A6"/>
<path d="M159,140.5 159,161.2 161.3,162.3 178.1,157.3 174.3,143 160.1,139.7Z" fill="#5CBB9C"/>
<path d="M144.2,159.7 150.2,162.2 159,161.2 159,140.5 143,140.5 140.2,148.3Z" fill="#A6DB8E"/>
<path d="M143,140.5 159,140.5 160.1,139.7 160.4,137.7 154,125 141.5,137.5Z" fill="#DCEB92"/>
<path d="M160.1,139.7 174.3,143 181.3,134.3 181.6,133 168.8,123.7 160.4,137.7Z" fill="#A6DB8E"/>
<path d="M186,161.4 190,158 198.9,151.4 200.1,146.3 202.1,141.1 203.4,137.9 202.7,134.7 198.9,128.5 192.9,127.6 194,122.7 194.1,122.6 193.2,122.8 181.6,133 181.3,134.3 174.3,143 178.1,157.3Z" fill="#36A2A6"/>
<path d="M168.8,78.2 176.3,77.6 175.8,71.2 168.3,71.8Z" fill="#F2F8CF"/>
<path d="M205.7,108.7 198.7,115.7 194,122.7 192.9,127.6 198.9,128.5 201.4,128.9 204.6,130.8 207.9,132.8 214.3,134.1 220.7,134.7 225.8,136.6 229.7,138.6 232.3,137.9 237.4,142.4 242.6,146.7 237.4,138.6 227.1,121.9 216.2,104.3 213.9,101.7Z" fill="#5CBB9C"/>
<path d="M193,80 197,86 201,90.5 205,97.5 208,102.8 213.9,101.7 213.4,99.9 210.2,94.4 207.4,89 200.9,77 196.5,70.6 188.8,73.5Z" fill="#F2F8CF"/>
<path d="M182.7,60 185.5,66 188.8,73.5 196.5,70.6 195.6,69.3 191.8,61.6 186.9,51.8 180.5,53Z" fill="#F2F8CF"/>
<path d="M130.9,42.4 L133.1,37.4" fill="none"/><path d="M168.9,25.6 L162.4,22.2" fill="none"/><path d="M178.7,31.8 L182.2,30.2" fill="none"/><path d="M101.5,36.4 L102.3,34.8" fill="none"/>
</g>
<g transform="matrix(0.958,0,0,0.958,4.99,219.7)" stroke="#2a2a2a" stroke-width="0.8" stroke-linejoin="round">
<path d="M85.1,156.9 75.5,170.1 77.8,170.9 90.9,175.5 100.2,178.6 107.9,180.9 111.5,185.6 109.2,162.7 112.8,155.8 113.4,152.3 102.2,144.5 93.1,145.2 86.7,156.1Z" fill="#ffffff"/>
<path d="M140.2,148.3 118.8,151.1 116.4,150.8 113.4,152.3 112.8,155.8 109.2,162.7 111.5,185.6 112.6,187.1 112.8,187.4 129.8,178.9 130.8,177.5 131.1,174.1 136.1,165.5 144.2,159.7Z" fill="#ffffff"/>
<path d="M130.8,177.5 129.8,178.9 112.8,187.4 118,194 124.9,201 134.2,207.2 142.5,211.5 143.5,210.9 145.8,193.8 145.9,193.7 147.7,179.9 147.8,179.8 150.2,162.2 144.2,159.7 136.1,165.5 131.1,174.1Z" fill="#ffffff"/>
<path d="M147.8,179.8 147.7,179.9 145.9,193.7 145.8,193.8 143.5,210.9 146.1,209.3 150.5,203.2 154,197.9 157.5,192.6 161.1,189.1 166.3,184.7 166.9,183.8 165.5,182.3 161.3,162.3 159,161.2 150.2,162.2Z" fill="#ffffff"/>
<path d="M37.8,45.8 40.2,44.5 46,48.3 55,40.1 55.3,39 53.6,36.3 56.3,27.3 55.8,25.8 55,25 53.2,26.1 47.7,27.2 43.4,26.9 37.9,26.4 33.5,27.2 28.1,26.4 22.4,26.6 23.7,30.2 24.3,32.9 25.9,33.4 24.8,36.2 24.3,37 24.6,40 25.9,43.1Z" fill="#ffffff"/>
<path d="M46.5,49.5 57.5,53.7 58.8,52.5 55,40.1 46,48.3Z" fill="#ffffff"/>
<path d="M57,57.2 57.5,53.7 46.5,49.5 46,48.3 40.2,44.5 37.8,45.8 25.9,43.1 25.9,43.2 27.9,45.1 31.7,47.1 36.9,49 40.1,51.6 42,55.4 42.6,58.6 42,61.2 43.3,63Z" fill="#ffffff"/>
<path d="M56.3,27.3 53.6,36.3 55.3,39 62.8,39 68.5,34.4 70.2,34.6 72.5,33.5 76.2,26.1 75.5,25.9 70.6,22 67.3,19.8 64.1,17.4 60.8,17.9 58.1,16.8 57.5,20.9 56.4,24 55,25 55.8,25.8Z" fill="#ffffff"/>
<path d="M55,40.1 58.8,52.5 65.6,50.4 62.8,39 55.3,39Z" fill="#ffffff"/>
<path d="M62.8,39 65.6,50.4 67.3,50.8 73.7,47.7 74.1,46.3 70.2,34.6 68.5,34.4Z" fill="#ffffff"/>
<path d="M48.9,70.7 60.4,69.1 61.4,66.8 57,57.2 43.3,63 43.9,63.8 44.6,67 44.3,68Z" fill="#ffffff"/>
<path d="M83.5,37.2 84.5,36 86.4,29.2 80.9,27.5 76.2,26.1 72.5,33.5Z" fill="#ffffff"/>
<path d="M84.5,36 95.4,37.8 99,35 97.3,34.1 91.8,31.4 86.4,29.2 86.4,29.2Z" fill="#ffffff"/>
<path d="M74.1,46.3 83.5,40.9 83.5,37.2 72.5,33.5 70.2,34.6Z" fill="#ffffff"/>
<path d="M83.5,40.9 86.3,44.5 92.9,44.5 95.4,37.8 84.5,36 83.5,37.2Z" fill="#ffffff"/>
<path d="M92.9,44.5 95.7,48.3 105.1,38.9 102.2,36.8 99,35 95.4,37.8Z" fill="#ffffff"/>
<path d="M74.1,46.3 73.7,47.7 81,54 85.1,49.9 86.3,44.5 83.5,40.9Z" fill="#ffffff"/>
<path d="M95.4,54.1 95.8,53.8 96.7,52.1 95.7,48.3 92.9,44.5 86.3,44.5 85.1,49.9Z" fill="#ffffff"/>
<path d="M81,54 81.1,56 91.4,59.8 95.4,54.1 85.1,49.9Z" fill="#ffffff"/>
<path d="M70.7,62.2 76.2,63.6 78.9,59.5 78.8,59.6 78.5,59.7 78.3,59.7 78.1,59.7 77.8,59.6 77.7,59.4 77.5,59.2 77.4,59 77.4,58.8 77.4,58.6 77.5,58.3 77.7,58.2 77.8,58 78.1,57.9 78.3,57.9 78.5,57.9 78.8,58 78.9,58.2 79.1,58.3 79.2,58.6 79.2,58.8 79.2,59 81.1,56 81,54 73.7,47.7 67.3,50.8Z" fill="#ffffff"/>
<path d="M96.7,52.1 101.9,51 106.4,39.7 106,39.5 105.1,38.9 95.7,48.3Z" fill="#ffffff"/>
<path d="M101.9,51 109.7,53.9 113.2,42.2 110.3,41.2 106.4,39.7Z" fill="#ffffff"/>
<path d="M95.8,53.8 103.3,61.3 109.2,59.6 110.7,56.5 109.7,53.9 101.9,51 96.7,52.1Z" fill="#ffffff"/>
<path d="M110.7,56.5 122,56.5 120.7,41.5 119.1,42.3 114.7,42.8 113.2,42.2 109.7,53.9Z" fill="#ffffff"/>
<path d="M122,56.5 124.1,58.4 131.4,52.9 130.1,42.2 126.7,41.2 121.3,41.2 120.7,41.5Z" fill="#ffffff"/>
<path d="M109.2,59.6 112.8,68.5 120.9,68.5 124.8,61.2 124.1,58.4 122,56.5 110.7,56.5Z" fill="#ffffff"/>
<path d="M91.6,63 102.3,63 103.3,61.3 95.8,53.8 95.4,54.1 91.4,59.8Z" fill="#ffffff"/>
<path d="M79.1,68.9 84.7,71.4 91.4,63.8 91.6,63 91.4,59.8 81.1,56 79.2,59 79.2,59 79.1,59.2 78.9,59.4 78.9,59.5 76.2,63.6Z" fill="#ffffff"/>
<path d="M131.4,52.9 139.9,54.8 141.8,47.2 139.6,46.8 134.2,43.5 130.9,42.4 130.1,42.2Z" fill="#ffffff"/>
<path d="M124.8,61.2 136.3,65.4 139.5,62.8 140.4,56 139.9,54.8 131.4,52.9 124.1,58.4Z" fill="#ffffff"/>
<path d="M139.9,54.8 140.4,56 152.5,56 154.1,52.9 152.9,47.7 151.6,47.9 146.2,47.9 141.8,47.2Z" fill="#ffffff"/>
<path d="M153.1,68.2 154.3,66.6 152.5,56 140.4,56 139.5,62.8Z" fill="#ffffff"/>
<path d="M135.8,72.6 148.4,79 152.8,74.9 153.1,68.2 139.5,62.8 136.3,65.4Z" fill="#ffffff"/>
<path d="M120.9,68.5 126,79.7 127.3,79.6 135.8,72.6 136.3,65.4 124.8,61.2Z" fill="#ffffff"/>
<path d="M166,43.8 164.7,45.2 160.3,46.3 154.9,47.4 152.9,47.7 154.1,52.9 164,54 166.7,44.8Z" fill="#ffffff"/>
<path d="M154.3,66.6 164.4,63.5 166.3,58.3 164,54 154.1,52.9 152.5,56Z" fill="#ffffff"/>
<path d="M166.7,44.8 179.2,47.9 184.3,45.9 183.1,43.1 180.6,36.8 180.2,33.5 178.7,31.8 176,31.3 172.7,29.1 170.6,26.6 168.7,25.4 169.8,27.2 171.1,29.9 169.6,33.7 168,38.1 167.4,42.4 166,43.8Z" fill="#ffffff"/>
<path d="M166.3,58.3 173.8,57 179.2,47.9 166.7,44.8 164,54Z" fill="#ffffff"/>
<path d="M179.2,47.9 173.8,57 166.3,58.3 164.4,63.5 171.5,71.5 175.8,71.2 175.9,71.8 181.3,69 186.7,68.7 185.5,66 182.7,60 180.5,53 186.9,51.8 184.3,45.9Z" fill="#ffffff"/>
<path d="M153.1,68.2 152.8,74.9 156.5,76.5 168.7,77.5 168.3,71.8 171.5,71.5 164.4,63.5 154.3,66.6Z" fill="#ffffff"/>
<path d="M181.3,69 175.9,71.8 176.3,77.6 171.1,78 176.9,85.9 182.1,87.1 186.3,98.8 202.1,92.5 201,90.5 197,86 193,80 188.8,73.5 186.7,68.7Z" fill="#ffffff"/>
<path d="M147.3,83.2 155.8,92.7 161.7,94.3 162.4,91.3 156.5,76.5 152.8,74.9 148.4,79ZM155.6,80.9 155.3,81 154.9,81 154.5,81 154.2,80.9 153.8,80.7 153.6,80.4 153.3,80.2 153.1,79.8 153,79.5 153,79.1 153,78.7 153.1,78.4 153.3,78 153.6,77.8 153.8,77.5 154.2,77.3 154.5,77.2 154.9,77.2 155.3,77.2 155.6,77.3 156,77.5 156.2,77.8 156.5,78 156.7,78.4 156.8,78.7 156.8,79.1 156.8,79.5 156.7,79.8 156.5,80.2 156.2,80.4 156,80.7Z" fill="#ffffff"/>
<path d="M161.7,94.3 165.1,99.1 169.4,97.9 182.8,101 185.7,99.8 186.3,98.8 182.1,87.1 176.9,85.9 171.1,78 168.8,78.2 168.7,77.5 156.5,76.5 162.4,91.3ZM167.4,93.4 165.5,93.9 163.6,93.6 163,92.2 163.3,90.6 165,90.3 166.2,91.4 167.6,92Z" fill="#ffffff"/>
<path d="M143.5,101.5 143.1,102 143.4,105.1 150.1,109.3 163.5,104.8 165.1,99.1 161.7,94.3 155.8,92.7 147.3,83.2 146.4,83.9Z" fill="#ffffff"/>
<path d="M127.3,79.6 136.6,87.1 146.4,83.9 147.3,83.2 148.4,79 135.8,72.6Z" fill="#ffffff"/>
<path d="M135.3,95 136.6,87.1 127.3,79.6 126,79.7 121.3,84.1 122,84.2 125,84.8 126,89 126.4,93.7 126.1,97.3Z" fill="#ffffff"/>
<path d="M135.3,95 143.1,102 143.5,101.5 146.4,83.9 136.6,87.1Z" fill="#ffffff"/>
<path d="M129.3,110.6 137.2,109.6 143.4,105.1 143.1,102 135.3,95 126.1,97.3 126,99.3 125.6,105.8Z" fill="#ffffff"/>
<path d="M185.7,99.8 182.8,101 169.4,97.9 165.1,99.1 163.5,104.8 169.1,115.4 177.7,113.8 193.2,122.8 194.1,122.6 198.7,115.7 205.7,108.7 213.9,101.7 208,102.8 205,97.5 202.1,92.5 186.3,98.8ZM213.9,101.7 216.2,104.3 213.4,99.9Z" fill="#ffffff"/>
<path d="M150.7,119.1 154,121.8 167.6,119.6 169.1,115.4 163.5,104.8 150.1,109.3Z" fill="#ffffff"/>
<path d="M137.2,109.6 140.7,123.7 150.7,119.1 150.1,109.3 143.4,105.1Z" fill="#ffffff"/>
<path d="M167.6,119.6 168.8,123.7 181.6,133 193.2,122.8 177.7,113.8 169.1,115.4Z" fill="#ffffff"/>
<path d="M160.4,137.7 168.8,123.7 167.6,119.6 154,121.8 154,125Z" fill="#ffffff"/>
<path d="M135.8,130.7 141.5,137.5 154,125 154,121.8 150.7,119.1 140.7,123.7Z" fill="#ffffff"/>
<path d="M57,57.2 61.4,66.8 70.7,62.2 67.3,50.8 65.6,50.4 58.8,52.5 57.5,53.7Z" fill="#ffffff"/>
<path d="M60.4,69.1 62.2,72.8 69.3,78.7 79.1,68.9 76.2,63.6 70.7,62.2 61.4,66.8Z" fill="#ffffff"/>
<path d="M84.7,71.4 86.9,75.8 99,74.5 101.4,72.3 101.2,71.7 91.4,63.8Z" fill="#ffffff"/>
<path d="M101.2,71.7 102.3,63 91.6,63 91.4,63.8Z" fill="#ffffff"/>
<path d="M102.3,63 101.2,71.7 101.4,72.3 108.1,73.8 112.8,68.5 109.2,59.6 103.3,61.3Z" fill="#ffffff"/>
<path d="M108.1,73.8 110.7,80.7 117,84.6 119,83.9 121.3,84.1 126,79.7 120.9,68.5 112.8,68.5Z" fill="#ffffff"/>
<path d="M69.8,81.4 82.4,87.7 86.1,82 86.9,75.8 84.7,71.4 79.1,68.9 69.3,78.7Z" fill="#ffffff"/>
<path d="M99,85.2 99,74.5 86.9,75.8 86.1,82Z" fill="#ffffff"/>
<path d="M99,74.5 99,85.2 100.5,87.1 110.7,80.7 108.1,73.8 101.4,72.3Z" fill="#ffffff"/>
<path d="M64.3,88.2 64.4,88.6 69,96.3 80,93 82.6,89.7 82.4,87.7 69.8,81.4Z" fill="#ffffff"/>
<path d="M82.6,89.7 91.5,95.6 100.5,93.7 100.5,87.1 99,85.2 86.1,82 82.4,87.7Z" fill="#ffffff"/>
<path d="M100.5,93.7 102.9,95.8 104,95.6 108.7,95.1 112,95.1 115.2,92.8 115.7,90 114.8,87.1 116.2,84.8 117,84.6 110.7,80.7 100.5,87.1Z" fill="#ffffff"/>
<path d="M67.6,100.8 71.4,105 79.8,105 80,104.7 80,93 69,96.3Z" fill="#ffffff"/>
<path d="M80,93 80,104.7 90.1,103.4 91.5,95.6 82.6,89.7Z" fill="#ffffff"/>
<path d="M94.7,111.1 103.3,106.5 103.1,106.3 98.4,102.1 93.7,97.9 94.2,96.5 99.3,96.5 102.9,95.8 100.5,93.7 91.5,95.6 90.1,103.4Z" fill="#ffffff"/>
<path d="M39.8,83.9 49.6,78.9 48.9,70.7 44.3,68 43.5,70 40.2,73.3 36.1,75.7 33.2,78.2 32.7,79.2Z" fill="#ffffff"/>
<path d="M49.6,78.9 52.5,82.2 55.3,83 62.2,72.8 60.4,69.1 48.9,70.7Z" fill="#ffffff"/>
<path d="M30.3,100.9 43.1,90 39.8,83.9 32.7,79.2 31.2,82.3 29.5,86.4 27.5,90.5 24.6,95.4 23.6,97.5Z" fill="#ffffff"/>
<path d="M50.3,96.2 58.2,86.7 55.3,83 52.5,82.2 45.6,90.9Z" fill="#ffffff"/>
<path d="M58.2,86.7 64.3,88.2 69.8,81.4 69.3,78.7 62.2,72.8 55.3,83Z" fill="#ffffff"/>
<path d="M45.6,90.9 52.5,82.2 49.6,78.9 39.8,83.9 43.1,90Z" fill="#ffffff"/>
<path d="M30.3,100.9 34,105.1 49.4,100.9 50.9,98.6 50.3,96.2 45.6,90.9 43.1,90Z" fill="#ffffff"/>
<path d="M50.9,98.6 56.3,99.4 64.4,88.6 64.3,88.2 58.2,86.7 50.3,96.2Z" fill="#ffffff"/>
<path d="M56.3,99.4 61.9,102.7 67.6,100.8 69,96.3 64.4,88.6Z" fill="#ffffff"/>
<path d="M27.4,121.4 35.9,114.7 34,105.1 30.3,100.9 23.6,97.5 22.4,100 18.8,104.1 15.5,109 13.2,113.1Z" fill="#ffffff"/>
<path d="M49.4,100.9 34,105.1 35.9,114.7 48.8,121.2 52.4,117.6Z" fill="#ffffff"/>
<path d="M27.4,121.4 13.2,113.1 12.3,114.7 9.8,119.6 7.4,124.1 10.6,127 16.4,131.1 21.3,135 24.3,137.7 25.5,138.6Z" fill="#ffffff"/>
<path d="M25.5,138.6 28.7,141.2 49,124.6 48.8,121.2 35.9,114.7 27.4,121.4Z" fill="#ffffff"/>
<path d="M60.9,140.9 60,135.7 54.7,132.7 49,124.6 28.7,141.2 33.6,145.1 41.1,149.8 48.6,154.5 50.3,156Z" fill="#ffffff"/>
<path d="M52.4,117.6 59.3,115.4 61.9,102.7 56.3,99.4 50.9,98.6 49.4,100.9Z" fill="#ffffff"/>
<path d="M68.5,117.5 68.6,117.4 71.4,105 67.6,100.8 61.9,102.7 59.3,115.4Z" fill="#ffffff"/>
<path d="M49,124.6 54.7,132.7 60,135.7 71.8,129.4 72,129 68.5,117.5 59.3,115.4 52.4,117.6 48.8,121.2Z" fill="#ffffff"/>
<path d="M68.6,117.4 81.3,113.6 79.8,105 71.4,105Z" fill="#ffffff"/>
<path d="M60.9,140.9 50.3,156 56.1,161 63.6,164.8 69.3,167.8 75.5,170.1 85.1,156.9 86.7,156.1 93.1,145.2 89.2,141.6 88.2,128 83,125.6 72,129 71.8,129.4 60,135.7Z" fill="#ffffff"/>
<path d="M68.5,117.5 72,129 83,125.6 83,114.7 81.3,113.6 68.6,117.4Z" fill="#ffffff"/>
<path d="M88.2,128 97.2,122.7 93.9,112.8 93.9,112.8 93.9,113 94.2,115.6 91.4,114.6 91.7,113.2 83,114.7 83,125.6Z" fill="#ffffff"/>
<path d="M79.8,105 81.3,113.6 83,114.7 91.7,113.2 92,112 92.6,109.3 94.2,110.4 93.9,112.8 93.9,112.8 94.7,111.1 90.1,103.4 80,104.7Z" fill="#ffffff"/>
<path d="M93.9,112.8 97.2,122.7 105.2,126.4 111.3,123.3 112.6,119.7 110.8,109.8 109.6,111 106.8,110.5 103.3,106.5 94.7,111.1Z" fill="#ffffff"/>
<path d="M112.6,119.7 127.4,115.2 129.3,110.6 125.6,105.8 125.5,106.8 120.8,107.7 115.2,107.2 112.4,108.2 110.8,109.8Z" fill="#ffffff"/>
<path d="M123.8,133 132.3,130 127.4,115.2 112.6,119.7 111.3,123.3Z" fill="#ffffff"/>
<path d="M127.4,115.2 132.3,130 135.8,130.7 140.7,123.7 137.2,109.6 129.3,110.6Z" fill="#ffffff"/>
<path d="M89.2,141.6 93.1,145.2 102.2,144.5 105.2,126.4 97.2,122.7 88.2,128Z" fill="#ffffff"/>
<path d="M102.2,144.5 113.4,152.3 116.4,150.8 123.8,133 111.3,123.3 105.2,126.4Z" fill="#ffffff"/>
<path d="M116.4,150.8 118.8,151.1 140.2,148.3 143,140.5 141.5,137.5 135.8,130.7 132.3,130 123.8,133Z" fill="#ffffff"/>
<path d="M178.1,157.3 161.3,162.3 165.5,182.3 166.9,183.8 168.9,181.2 170.7,176.8 173.3,175.1 176.8,170.7 178.6,166.3 182.1,164.6 186,161.4Z" fill="#ffffff"/>
<path d="M159,140.5 159,161.2 161.3,162.3 178.1,157.3 174.3,143 160.1,139.7Z" fill="#ffffff"/>
<path d="M144.2,159.7 150.2,162.2 159,161.2 159,140.5 143,140.5 140.2,148.3Z" fill="#ffffff"/>
<path d="M143,140.5 159,140.5 160.1,139.7 160.4,137.7 154,125 141.5,137.5Z" fill="#ffffff"/>
<path d="M160.1,139.7 174.3,143 181.3,134.3 181.6,133 168.8,123.7 160.4,137.7Z" fill="#ffffff"/>
<path d="M186,161.4 190,158 198.9,151.4 200.1,146.3 202.1,141.1 203.4,137.9 202.7,134.7 198.9,128.5 192.9,127.6 194,122.7 194.1,122.6 193.2,122.8 181.6,133 181.3,134.3 174.3,143 178.1,157.3Z" fill="#ffffff"/>
<path d="M168.8,78.2 176.3,77.6 175.8,71.2 168.3,71.8Z" fill="#ffffff"/>
<path d="M205.7,108.7 198.7,115.7 194,122.7 192.9,127.6 198.9,128.5 201.4,128.9 204.6,130.8 207.9,132.8 214.3,134.1 220.7,134.7 225.8,136.6 229.7,138.6 232.3,137.9 237.4,142.4 242.6,146.7 237.4,138.6 227.1,121.9 216.2,104.3 213.9,101.7Z" fill="#ffffff"/>
<path d="M193,80 197,86 201,90.5 205,97.5 208,102.8 213.9,101.7 213.4,99.9 210.2,94.4 207.4,89 200.9,77 196.5,70.6 188.8,73.5Z" fill="#ffffff"/>
<path d="M182.7,60 185.5,66 188.8,73.5 196.5,70.6 195.6,69.3 191.8,61.6 186.9,51.8 180.5,53Z" fill="#ffffff"/>
<path d="M130.9,42.4 L133.1,37.4" fill="none"/><path d="M168.9,25.6 L162.4,22.2" fill="none"/><path d="M178.7,31.8 L182.2,30.2" fill="none"/><path d="M101.5,36.4 L102.3,34.8" fill="none"/>
</g>
<g transform="translate(281,210.9)" stroke="#2a2a2a" stroke-width="0.7" stroke-linejoin="round">
<path d="M85.1,156.9 75.5,170.1 77.8,170.9 90.9,175.5 100.2,178.6 107.9,180.9 111.5,185.6 109.2,162.7 112.8,155.8 113.4,152.3 102.2,144.5 93.1,145.2 86.7,156.1Z" fill="#F2F8CF"/>
<path d="M140.2,148.3 118.8,151.1 116.4,150.8 113.4,152.3 112.8,155.8 109.2,162.7 111.5,185.6 112.6,187.1 112.8,187.4 129.8,178.9 130.8,177.5 131.1,174.1 136.1,165.5 144.2,159.7Z" fill="#5CBB9C"/>
<path d="M130.8,177.5 129.8,178.9 112.8,187.4 118,194 124.9,201 134.2,207.2 142.5,211.5 143.5,210.9 145.8,193.8 145.9,193.7 147.7,179.9 147.8,179.8 150.2,162.2 144.2,159.7 136.1,165.5 131.1,174.1Z" fill="#2B8FC0"/>
<path d="M147.8,179.8 147.7,179.9 145.9,193.7 145.8,193.8 143.5,210.9 146.1,209.3 150.5,203.2 154,197.9 157.5,192.6 161.1,189.1 166.3,184.7 166.9,183.8 165.5,182.3 161.3,162.3 159,161.2 150.2,162.2Z" fill="#2B8FC0"/>
<path d="M37.8,45.8 40.2,44.5 46,48.3 55,40.1 55.3,39 53.6,36.3 56.3,27.3 55.8,25.8 55,25 53.2,26.1 47.7,27.2 43.4,26.9 37.9,26.4 33.5,27.2 28.1,26.4 22.4,26.6 23.7,30.2 24.3,32.9 25.9,33.4 24.8,36.2 24.3,37 24.6,40 25.9,43.1Z" fill="#2B8FC0"/>
<path d="M46.5,49.5 57.5,53.7 58.8,52.5 55,40.1 46,48.3Z" fill="#36A2A6"/>
<path d="M57,57.2 57.5,53.7 46.5,49.5 46,48.3 40.2,44.5 37.8,45.8 25.9,43.1 25.9,43.2 27.9,45.1 31.7,47.1 36.9,49 40.1,51.6 42,55.4 42.6,58.6 42,61.2 43.3,63Z" fill="#36A2A6"/>
<path d="M56.3,27.3 53.6,36.3 55.3,39 62.8,39 68.5,34.4 70.2,34.6 72.5,33.5 76.2,26.1 75.5,25.9 70.6,22 67.3,19.8 64.1,17.4 60.8,17.9 58.1,16.8 57.5,20.9 56.4,24 55,25 55.8,25.8Z" fill="#2B8FC0"/>
<path d="M55,40.1 58.8,52.5 65.6,50.4 62.8,39 55.3,39Z" fill="#36A2A6"/>
<path d="M62.8,39 65.6,50.4 67.3,50.8 73.7,47.7 74.1,46.3 70.2,34.6 68.5,34.4Z" fill="#36A2A6"/>
<path d="M48.9,70.7 60.4,69.1 61.4,66.8 57,57.2 43.3,63 43.9,63.8 44.6,67 44.3,68Z" fill="#A6DB8E"/>
<path d="M83.5,37.2 84.5,36 86.4,29.2 80.9,27.5 76.2,26.1 72.5,33.5Z" fill="#36A2A6"/>
<path d="M84.5,36 95.4,37.8 99,35 97.3,34.1 91.8,31.4 86.4,29.2 86.4,29.2Z" fill="#36A2A6"/>
<path d="M74.1,46.3 83.5,40.9 83.5,37.2 72.5,33.5 70.2,34.6Z" fill="#36A2A6"/>
<path d="M83.5,40.9 86.3,44.5 92.9,44.5 95.4,37.8 84.5,36 83.5,37.2Z" fill="#36A2A6"/>
<path d="M92.9,44.5 95.7,48.3 105.1,38.9 102.2,36.8 99,35 95.4,37.8Z" fill="#36A2A6"/>
<path d="M74.1,46.3 73.7,47.7 81,54 85.1,49.9 86.3,44.5 83.5,40.9Z" fill="#36A2A6"/>
<path d="M95.4,54.1 95.8,53.8 96.7,52.1 95.7,48.3 92.9,44.5 86.3,44.5 85.1,49.9Z" fill="#36A2A6"/>
<path d="M81,54 81.1,56 91.4,59.8 95.4,54.1 85.1,49.9Z" fill="#5CBB9C"/>
<path d="M70.7,62.2 76.2,63.6 78.9,59.5 78.8,59.6 78.5,59.7 78.3,59.7 78.1,59.7 77.8,59.6 77.7,59.4 77.5,59.2 77.4,59 77.4,58.8 77.4,58.6 77.5,58.3 77.7,58.2 77.8,58 78.1,57.9 78.3,57.9 78.5,57.9 78.8,58 78.9,58.2 79.1,58.3 79.2,58.6 79.2,58.8 79.2,59 81.1,56 81,54 73.7,47.7 67.3,50.8Z" fill="#A6DB8E"/>
<path d="M96.7,52.1 101.9,51 106.4,39.7 106,39.5 105.1,38.9 95.7,48.3Z" fill="#36A2A6"/>
<path d="M101.9,51 109.7,53.9 113.2,42.2 110.3,41.2 106.4,39.7Z" fill="#2B8FC0"/>
<path d="M95.8,53.8 103.3,61.3 109.2,59.6 110.7,56.5 109.7,53.9 101.9,51 96.7,52.1Z" fill="#5CBB9C"/>
<path d="M110.7,56.5 122,56.5 120.7,41.5 119.1,42.3 114.7,42.8 113.2,42.2 109.7,53.9Z" fill="#2B8FC0"/>
<path d="M122,56.5 124.1,58.4 131.4,52.9 130.1,42.2 126.7,41.2 121.3,41.2 120.7,41.5Z" fill="#2B8FC0"/>
<path d="M109.2,59.6 112.8,68.5 120.9,68.5 124.8,61.2 124.1,58.4 122,56.5 110.7,56.5Z" fill="#2B8FC0"/>
<path d="M91.6,63 102.3,63 103.3,61.3 95.8,53.8 95.4,54.1 91.4,59.8Z" fill="#5CBB9C"/>
<path d="M79.1,68.9 84.7,71.4 91.4,63.8 91.6,63 91.4,59.8 81.1,56 79.2,59 79.2,59 79.1,59.2 78.9,59.4 78.9,59.5 76.2,63.6Z" fill="#5CBB9C"/>
<path d="M131.4,52.9 139.9,54.8 141.8,47.2 139.6,46.8 134.2,43.5 130.9,42.4 130.1,42.2Z" fill="#23619F"/>
<path d="M124.8,61.2 136.3,65.4 139.5,62.8 140.4,56 139.9,54.8 131.4,52.9 124.1,58.4Z" fill="#2B8FC0"/>
<path d="M139.9,54.8 140.4,56 152.5,56 154.1,52.9 152.9,47.7 151.6,47.9 146.2,47.9 141.8,47.2Z" fill="#23619F"/>
<path d="M153.1,68.2 154.3,66.6 152.5,56 140.4,56 139.5,62.8Z" fill="#23619F"/>
<path d="M135.8,72.6 148.4,79 152.8,74.9 153.1,68.2 139.5,62.8 136.3,65.4Z" fill="#23619F"/>
<path d="M120.9,68.5 126,79.7 127.3,79.6 135.8,72.6 136.3,65.4 124.8,61.2Z" fill="#2B8FC0"/>
<path d="M166,43.8 164.7,45.2 160.3,46.3 154.9,47.4 152.9,47.7 154.1,52.9 164,54 166.7,44.8Z" fill="#23619F"/>
<path d="M154.3,66.6 164.4,63.5 166.3,58.3 164,54 154.1,52.9 152.5,56Z" fill="#23619F"/>
<path d="M166.7,44.8 179.2,47.9 184.3,45.9 183.1,43.1 180.6,36.8 180.2,33.5 178.7,31.8 176,31.3 172.7,29.1 170.6,26.6 168.7,25.4 169.8,27.2 171.1,29.9 169.6,33.7 168,38.1 167.4,42.4 166,43.8Z" fill="#23619F"/>
<path d="M166.3,58.3 173.8,57 179.2,47.9 166.7,44.8 164,54Z" fill="#23619F"/>
<path d="M179.2,47.9 173.8,57 166.3,58.3 164.4,63.5 171.5,71.5 175.8,71.2 175.9,71.8 181.3,69 186.7,68.7 185.5,66 182.7,60 180.5,53 186.9,51.8 184.3,45.9Z" fill="#23619F"/>
<path d="M153.1,68.2 152.8,74.9 156.5,76.5 168.7,77.5 168.3,71.8 171.5,71.5 164.4,63.5 154.3,66.6Z" fill="#23619F"/>
<path d="M181.3,69 175.9,71.8 176.3,77.6 171.1,78 176.9,85.9 182.1,87.1 186.3,98.8 202.1,92.5 201,90.5 197,86 193,80 188.8,73.5 186.7,68.7Z" fill="#23619F"/>
<path d="M147.3,83.2 155.8,92.7 161.7,94.3 162.4,91.3 156.5,76.5 152.8,74.9 148.4,79ZM155.6,80.9 155.3,81 154.9,81 154.5,81 154.2,80.9 153.8,80.7 153.6,80.4 153.3,80.2 153.1,79.8 153,79.5 153,79.1 153,78.7 153.1,78.4 153.3,78 153.6,77.8 153.8,77.5 154.2,77.3 154.5,77.2 154.9,77.2 155.3,77.2 155.6,77.3 156,77.5 156.2,77.8 156.5,78 156.7,78.4 156.8,78.7 156.8,79.1 156.8,79.5 156.7,79.8 156.5,80.2 156.2,80.4 156,80.7Z" fill="#23619F"/>
<path d="M161.7,94.3 165.1,99.1 169.4,97.9 182.8,101 185.7,99.8 186.3,98.8 182.1,87.1 176.9,85.9 171.1,78 168.8,78.2 168.7,77.5 156.5,76.5 162.4,91.3ZM167.4,93.4 165.5,93.9 163.6,93.6 163,92.2 163.3,90.6 165,90.3 166.2,91.4 167.6,92Z" fill="#23619F"/>
<path d="M143.5,101.5 143.1,102 143.4,105.1 150.1,109.3 163.5,104.8 165.1,99.1 161.7,94.3 155.8,92.7 147.3,83.2 146.4,83.9Z" fill="#2B8FC0"/>
<path d="M127.3,79.6 136.6,87.1 146.4,83.9 147.3,83.2 148.4,79 135.8,72.6Z" fill="#2B8FC0"/>
<path d="M135.3,95 136.6,87.1 127.3,79.6 126,79.7 121.3,84.1 122,84.2 125,84.8 126,89 126.4,93.7 126.1,97.3Z" fill="#2B8FC0"/>
<path d="M135.3,95 143.1,102 143.5,101.5 146.4,83.9 136.6,87.1Z" fill="#23619F"/>
<path d="M129.3,110.6 137.2,109.6 143.4,105.1 143.1,102 135.3,95 126.1,97.3 126,99.3 125.6,105.8Z" fill="#2B8FC0"/>
<path d="M185.7,99.8 182.8,101 169.4,97.9 165.1,99.1 163.5,104.8 169.1,115.4 177.7,113.8 193.2,122.8 194.1,122.6 198.7,115.7 205.7,108.7 213.9,101.7 208,102.8 205,97.5 202.1,92.5 186.3,98.8ZM213.9,101.7 216.2,104.3 213.4,99.9Z" fill="#2B8FC0"/>
<path d="M150.7,119.1 154,121.8 167.6,119.6 169.1,115.4 163.5,104.8 150.1,109.3Z" fill="#2B8FC0"/>
<path d="M137.2,109.6 140.7,123.7 150.7,119.1 150.1,109.3 143.4,105.1Z" fill="#2B8FC0"/>
<path d="M167.6,119.6 168.8,123.7 181.6,133 193.2,122.8 177.7,113.8 169.1,115.4Z" fill="#5CBB9C"/>
<path d="M160.4,137.7 168.8,123.7 167.6,119.6 154,121.8 154,125Z" fill="#36A2A6"/>
<path d="M135.8,130.7 141.5,137.5 154,125 154,121.8 150.7,119.1 140.7,123.7Z" fill="#2B8FC0"/>
<path d="M57,57.2 61.4,66.8 70.7,62.2 67.3,50.8 65.6,50.4 58.8,52.5 57.5,53.7Z" fill="#A6DB8E"/>
<path d="M60.4,69.1 62.2,72.8 69.3,78.7 79.1,68.9 76.2,63.6 70.7,62.2 61.4,66.8Z" fill="#DCEB92"/>
<path d="M84.7,71.4 86.9,75.8 99,74.5 101.4,72.3 101.2,71.7 91.4,63.8Z" fill="#5CBB9C"/>
<path d="M101.2,71.7 102.3,63 91.6,63 91.4,63.8Z" fill="#5CBB9C"/>
<path d="M102.3,63 101.2,71.7 101.4,72.3 108.1,73.8 112.8,68.5 109.2,59.6 103.3,61.3Z" fill="#5CBB9C"/>
<path d="M108.1,73.8 110.7,80.7 117,84.6 119,83.9 121.3,84.1 126,79.7 120.9,68.5 112.8,68.5Z" fill="#5CBB9C"/>
<path d="M69.8,81.4 82.4,87.7 86.1,82 86.9,75.8 84.7,71.4 79.1,68.9 69.3,78.7Z" fill="#DCEB92"/>
<path d="M99,85.2 99,74.5 86.9,75.8 86.1,82Z" fill="#F2F8CF"/>
<path d="M99,74.5 99,85.2 100.5,87.1 110.7,80.7 108.1,73.8 101.4,72.3Z" fill="#DCEB92"/>
<path d="M64.3,88.2 64.4,88.6 69,96.3 80,93 82.6,89.7 82.4,87.7 69.8,81.4Z" fill="#F2F8CF"/>
<path d="M82.6,89.7 91.5,95.6 100.5,93.7 100.5,87.1 99,85.2 86.1,82 82.4,87.7Z" fill="#F2F8CF"/>
<path d="M100.5,93.7 102.9,95.8 104,95.6 108.7,95.1 112,95.1 115.2,92.8 115.7,90 114.8,87.1 116.2,84.8 117,84.6 110.7,80.7 100.5,87.1Z" fill="#DCEB92"/>
<path d="M67.6,100.8 71.4,105 79.8,105 80,104.7 80,93 69,96.3Z" fill="#F2F8CF"/>
<path d="M80,93 80,104.7 90.1,103.4 91.5,95.6 82.6,89.7Z" fill="#F2F8CF"/>
<path d="M94.7,111.1 103.3,106.5 103.1,106.3 98.4,102.1 93.7,97.9 94.2,96.5 99.3,96.5 102.9,95.8 100.5,93.7 91.5,95.6 90.1,103.4Z" fill="#F2F8CF"/>
<path d="M39.8,83.9 49.6,78.9 48.9,70.7 44.3,68 43.5,70 40.2,73.3 36.1,75.7 33.2,78.2 32.7,79.2Z" fill="#A6DB8E"/>
<path d="M49.6,78.9 52.5,82.2 55.3,83 62.2,72.8 60.4,69.1 48.9,70.7Z" fill="#DCEB92"/>
<path d="M30.3,100.9 43.1,90 39.8,83.9 32.7,79.2 31.2,82.3 29.5,86.4 27.5,90.5 24.6,95.4 23.6,97.5Z" fill="#A6DB8E"/>
<path d="M50.3,96.2 58.2,86.7 55.3,83 52.5,82.2 45.6,90.9Z" fill="#DCEB92"/>
<path d="M58.2,86.7 64.3,88.2 69.8,81.4 69.3,78.7 62.2,72.8 55.3,83Z" fill="#DCEB92"/>
<path d="M45.6,90.9 52.5,82.2 49.6,78.9 39.8,83.9 43.1,90Z" fill="#A6DB8E"/>
<path d="M30.3,100.9 34,105.1 49.4,100.9 50.9,98.6 50.3,96.2 45.6,90.9 43.1,90Z" fill="#A6DB8E"/>
<path d="M50.9,98.6 56.3,99.4 64.4,88.6 64.3,88.2 58.2,86.7 50.3,96.2Z" fill="#DCEB92"/>
<path d="M56.3,99.4 61.9,102.7 67.6,100.8 69,96.3 64.4,88.6Z" fill="#DCEB92"/>
<path d="M27.4,121.4 35.9,114.7 34,105.1 30.3,100.9 23.6,97.5 22.4,100 18.8,104.1 15.5,109 13.2,113.1Z" fill="#5CBB9C"/>
<path d="M49.4,100.9 34,105.1 35.9,114.7 48.8,121.2 52.4,117.6Z" fill="#DCEB92"/>
<path d="M27.4,121.4 13.2,113.1 12.3,114.7 9.8,119.6 7.4,124.1 10.6,127 16.4,131.1 21.3,135 24.3,137.7 25.5,138.6Z" fill="#5CBB9C"/>
<path d="M25.5,138.6 28.7,141.2 49,124.6 48.8,121.2 35.9,114.7 27.4,121.4Z" fill="#A6DB8E"/>
<path d="M60.9,140.9 60,135.7 54.7,132.7 49,124.6 28.7,141.2 33.6,145.1 41.1,149.8 48.6,154.5 50.3,156Z" fill="#DCEB92"/>
<path d="M52.4,117.6 59.3,115.4 61.9,102.7 56.3,99.4 50.9,98.6 49.4,100.9Z" fill="#F2F8CF"/>
<path d="M68.5,117.5 68.6,117.4 71.4,105 67.6,100.8 61.9,102.7 59.3,115.4Z" fill="#F2F8CF"/>
<path d="M49,124.6 54.7,132.7 60,135.7 71.8,129.4 72,129 68.5,117.5 59.3,115.4 52.4,117.6 48.8,121.2Z" fill="#F2F8CF"/>
<path d="M68.6,117.4 81.3,113.6 79.8,105 71.4,105Z" fill="#F2F8CF"/>
<path d="M60.9,140.9 50.3,156 56.1,161 63.6,164.8 69.3,167.8 75.5,170.1 85.1,156.9 86.7,156.1 93.1,145.2 89.2,141.6 88.2,128 83,125.6 72,129 71.8,129.4 60,135.7Z" fill="#F2F8CF"/>
<path d="M68.5,117.5 72,129 83,125.6 83,114.7 81.3,113.6 68.6,117.4Z" fill="#F2F8CF"/>
<path d="M88.2,128 97.2,122.7 93.9,112.8 93.9,112.8 93.9,113 94.2,115.6 91.4,114.6 91.7,113.2 83,114.7 83,125.6Z" fill="#F2F8CF"/>
<path d="M79.8,105 81.3,113.6 83,114.7 91.7,113.2 92,112 92.6,109.3 94.2,110.4 93.9,112.8 93.9,112.8 94.7,111.1 90.1,103.4 80,104.7Z" fill="#F2F8CF"/>
<path d="M93.9,112.8 97.2,122.7 105.2,126.4 111.3,123.3 112.6,119.7 110.8,109.8 109.6,111 106.8,110.5 103.3,106.5 94.7,111.1Z" fill="#DCEB92"/>
<path d="M112.6,119.7 127.4,115.2 129.3,110.6 125.6,105.8 125.5,106.8 120.8,107.7 115.2,107.2 112.4,108.2 110.8,109.8Z" fill="#5CBB9C"/>
<path d="M123.8,133 132.3,130 127.4,115.2 112.6,119.7 111.3,123.3Z" fill="#5CBB9C"/>
<path d="M127.4,115.2 132.3,130 135.8,130.7 140.7,123.7 137.2,109.6 129.3,110.6Z" fill="#36A2A6"/>
<path d="M89.2,141.6 93.1,145.2 102.2,144.5 105.2,126.4 97.2,122.7 88.2,128Z" fill="#F2F8CF"/>
<path d="M102.2,144.5 113.4,152.3 116.4,150.8 123.8,133 111.3,123.3 105.2,126.4Z" fill="#A6DB8E"/>
<path d="M116.4,150.8 118.8,151.1 140.2,148.3 143,140.5 141.5,137.5 135.8,130.7 132.3,130 123.8,133Z" fill="#5CBB9C"/>
<path d="M178.1,157.3 161.3,162.3 165.5,182.3 166.9,183.8 168.9,181.2 170.7,176.8 173.3,175.1 176.8,170.7 178.6,166.3 182.1,164.6 186,161.4Z" fill="#5CBB9C"/>
<path d="M159,140.5 159,161.2 161.3,162.3 178.1,157.3 174.3,143 160.1,139.7Z" fill="#5CBB9C"/>
<path d="M144.2,159.7 150.2,162.2 159,161.2 159,140.5 143,140.5 140.2,148.3Z" fill="#36A2A6"/>
<path d="M143,140.5 159,140.5 160.1,139.7 160.4,137.7 154,125 141.5,137.5Z" fill="#36A2A6"/>
<path d="M160.1,139.7 174.3,143 181.3,134.3 181.6,133 168.8,123.7 160.4,137.7Z" fill="#5CBB9C"/>
<path d="M186,161.4 190,158 198.9,151.4 200.1,146.3 202.1,141.1 203.4,137.9 202.7,134.7 198.9,128.5 192.9,127.6 194,122.7 194.1,122.6 193.2,122.8 181.6,133 181.3,134.3 174.3,143 178.1,157.3Z" fill="#A6DB8E"/>
<path d="M168.8,78.2 176.3,77.6 175.8,71.2 168.3,71.8Z" fill="#23619F"/>
<path d="M205.7,108.7 198.7,115.7 194,122.7 192.9,127.6 198.9,128.5 201.4,128.9 204.6,130.8 207.9,132.8 214.3,134.1 220.7,134.7 225.8,136.6 229.7,138.6 232.3,137.9 237.4,142.4 242.6,146.7 237.4,138.6 227.1,121.9 216.2,104.3 213.9,101.7Z" fill="#F2F8CF"/>
<path d="M193,80 197,86 201,90.5 205,97.5 208,102.8 213.9,101.7 213.4,99.9 210.2,94.4 207.4,89 200.9,77 196.5,70.6 188.8,73.5Z" fill="#23619F"/>
<path d="M182.7,60 185.5,66 188.8,73.5 196.5,70.6 195.6,69.3 191.8,61.6 186.9,51.8 180.5,53Z" fill="#23619F"/>
<path d="M130.9,42.4 L133.1,37.4" fill="none"/><path d="M168.9,25.6 L162.4,22.2" fill="none"/><path d="M178.7,31.8 L182.2,30.2" fill="none"/><path d="M101.5,36.4 L102.3,34.8" fill="none"/>
</g>
<rect x="181.8" y="152.4" width="82" height="58" fill="#fff"/>
<rect x="468.2" y="152.4" width="78" height="58" fill="#fff"/>
<rect x="468.2" y="363.3" width="78" height="60" fill="#fff"/>
<rect x="183.2" y="155.6" width="12.6" height="2.9" rx="1.2" fill="#F2F8CF" stroke="#6a6a6a" stroke-width="0.6"/>
<text x="196.9" y="159.2" textLength="62.5" lengthAdjust="spacingAndGlyphs" class="lg">-1.31486 - -1.27535</text>
<rect x="183.2" y="163.7" width="12.6" height="2.9" rx="1.2" fill="#DCEB92" stroke="#6a6a6a" stroke-width="0.6"/>
<text x="196.9" y="167.3" textLength="62.5" lengthAdjust="spacingAndGlyphs" class="lg">-1.27382 - -1.25766</text>
<rect x="183.2" y="171.8" width="12.6" height="2.9" rx="1.2" fill="#A6DB8E" stroke="#6a6a6a" stroke-width="0.6"/>
<text x="196.9" y="175.4" textLength="62.5" lengthAdjust="spacingAndGlyphs" class="lg">-1.25730 - -1.24822</text>
<rect x="183.2" y="179.9" width="12.6" height="2.9" rx="1.2" fill="#5CBB9C" stroke="#6a6a6a" stroke-width="0.6"/>
<text x="196.9" y="183.5" textLength="62.5" lengthAdjust="spacingAndGlyphs" class="lg">-1.24753 - -1.23990</text>
<rect x="183.2" y="188" width="12.6" height="2.9" rx="1.2" fill="#36A2A6" stroke="#6a6a6a" stroke-width="0.6"/>
<text x="196.9" y="191.6" textLength="62.5" lengthAdjust="spacingAndGlyphs" class="lg">-1.23953 - -1.23066</text>
<rect x="183.2" y="196.1" width="12.6" height="2.9" rx="1.2" fill="#2B8FC0" stroke="#6a6a6a" stroke-width="0.6"/>
<text x="196.9" y="199.7" textLength="62.5" lengthAdjust="spacingAndGlyphs" class="lg">-1.23015 - -1.21404</text>
<rect x="183.2" y="204.2" width="12.6" height="2.9" rx="1.2" fill="#23619F" stroke="#6a6a6a" stroke-width="0.6"/>
<text x="196.9" y="207.8" textLength="62.5" lengthAdjust="spacingAndGlyphs" class="lg">-1.21192 - -1.15756</text>
<rect x="469.2" y="155.4" width="12.6" height="2.9" rx="1.2" fill="#F2F8CF" stroke="#6a6a6a" stroke-width="0.6"/>
<text x="483.4" y="159" textLength="57.3" lengthAdjust="spacingAndGlyphs" class="lg">1.38133 - 1.50496</text>
<rect x="469.2" y="163.5" width="12.6" height="2.9" rx="1.2" fill="#DCEB92" stroke="#6a6a6a" stroke-width="0.6"/>
<text x="483.4" y="167.1" textLength="57.3" lengthAdjust="spacingAndGlyphs" class="lg">1.50534 - 1.59712</text>
<rect x="469.2" y="171.6" width="12.6" height="2.9" rx="1.2" fill="#A6DB8E" stroke="#6a6a6a" stroke-width="0.6"/>
<text x="483.4" y="175.2" textLength="57.3" lengthAdjust="spacingAndGlyphs" class="lg">1.60138 - 1.69669</text>
<rect x="469.2" y="179.7" width="12.6" height="2.9" rx="1.2" fill="#5CBB9C" stroke="#6a6a6a" stroke-width="0.6"/>
<text x="483.4" y="183.3" textLength="57.3" lengthAdjust="spacingAndGlyphs" class="lg">1.69865 - 1.75273</text>
<rect x="469.2" y="187.8" width="12.6" height="2.9" rx="1.2" fill="#36A2A6" stroke="#6a6a6a" stroke-width="0.6"/>
<text x="483.4" y="191.4" textLength="57.3" lengthAdjust="spacingAndGlyphs" class="lg">1.75316 - 1.80427</text>
<rect x="469.2" y="195.9" width="12.6" height="2.9" rx="1.2" fill="#2B8FC0" stroke="#6a6a6a" stroke-width="0.6"/>
<text x="483.4" y="199.5" textLength="57.3" lengthAdjust="spacingAndGlyphs" class="lg">1.80641 - 1.87433</text>
<rect x="469.2" y="204" width="12.6" height="2.9" rx="1.2" fill="#23619F" stroke="#6a6a6a" stroke-width="0.6"/>
<text x="483.4" y="207.6" textLength="57.3" lengthAdjust="spacingAndGlyphs" class="lg">1.87513 - 1.99425</text>
<rect x="469.2" y="366.4" width="12.6" height="2.9" rx="1.2" fill="#F2F8CF" stroke="#6a6a6a" stroke-width="0.6"/>
<text x="483.4" y="370" textLength="57.3" lengthAdjust="spacingAndGlyphs" class="lg">34.5421 - 36.6434</text>
<rect x="469.2" y="374.5" width="12.6" height="2.9" rx="1.2" fill="#DCEB92" stroke="#6a6a6a" stroke-width="0.6"/>
<text x="483.4" y="378.1" textLength="57.3" lengthAdjust="spacingAndGlyphs" class="lg">36.6580 - 38.2421</text>
<rect x="469.2" y="382.6" width="12.6" height="2.9" rx="1.2" fill="#A6DB8E" stroke="#6a6a6a" stroke-width="0.6"/>
<text x="483.4" y="386.2" textLength="57.3" lengthAdjust="spacingAndGlyphs" class="lg">38.2638 - 39.9020</text>
<rect x="469.2" y="390.7" width="12.6" height="2.9" rx="1.2" fill="#5CBB9C" stroke="#6a6a6a" stroke-width="0.6"/>
<text x="483.4" y="394.3" textLength="57.3" lengthAdjust="spacingAndGlyphs" class="lg">39.9181 - 41.4533</text>
<rect x="469.2" y="398.8" width="12.6" height="2.9" rx="1.2" fill="#36A2A6" stroke="#6a6a6a" stroke-width="0.6"/>
<text x="483.4" y="402.4" textLength="57.3" lengthAdjust="spacingAndGlyphs" class="lg">41.5536 - 43.0122</text>
<rect x="469.2" y="406.9" width="12.6" height="2.9" rx="1.2" fill="#2B8FC0" stroke="#6a6a6a" stroke-width="0.6"/>
<text x="483.4" y="410.5" textLength="57.3" lengthAdjust="spacingAndGlyphs" class="lg">43.0203 - 47.4035</text>
<rect x="469.2" y="414.9" width="12.6" height="2.9" rx="1.2" fill="#23619F" stroke="#6a6a6a" stroke-width="0.6"/>
<text x="483.4" y="418.6" textLength="57.3" lengthAdjust="spacingAndGlyphs" class="lg">47.5931 - 64.7619</text>
<path d="M15.5,182.9L23.1,197.6L15.2,193.6Z" fill="#000"/><path d="M15.5,182.9L15.2,193.6L8.1,197.4Z" fill="#fff" stroke="#000" stroke-width="0.9" stroke-linejoin="miter"/>
<path d="M307.8,182.2L315.5,196.5L307.6,193.5Z" fill="#000"/><path d="M307.8,182.2L307.6,193.5L300.2,196.5Z" fill="#fff" stroke="#000" stroke-width="0.9" stroke-linejoin="miter"/>
<path d="M19.3,389.1L26.9,403.6L19.3,400.7Z" fill="#000"/><path d="M19.3,389.1L19.3,400.7L12,403.6Z" fill="#fff" stroke="#000" stroke-width="0.9" stroke-linejoin="miter"/>
<path d="M308.7,393.1L316.6,407.6L309.1,404.8Z" fill="#000"/><path d="M308.7,393.1L309.1,404.8L301.2,407.6Z" fill="#fff" stroke="#000" stroke-width="0.9" stroke-linejoin="miter"/>
<text x="106" y="12.7" textLength="34" lengthAdjust="spacingAndGlyphs" class="tt">Intercept</text>
<text x="249" y="12.8" textLength="296" lengthAdjust="spacingAndGlyphs" class="tt">Proportion of households with incomes up to 3 minimum wages (P_D_A3SM)</text>
<text x="32.1" y="220.6" textLength="178.1" lengthAdjust="spacingAndGlyphs" class="tt">#Signalized intersections per km (DEN&#160;&#160;I&#160;&#160;SEM)</text>
<text x="43.8" y="230.2" textLength="145.4" lengthAdjust="spacingAndGlyphs" class="tt">#Speed cameras per km (D_EQUI_FE)</text>
<text x="355.4" y="225.7" textLength="76.4" lengthAdjust="spacingAndGlyphs" class="tt">Precision parameter</text>
<text transform="translate(438.5,226.6) scale(1.3,1)" class="phi">&#981;</text>
</svg>
</body></html>
